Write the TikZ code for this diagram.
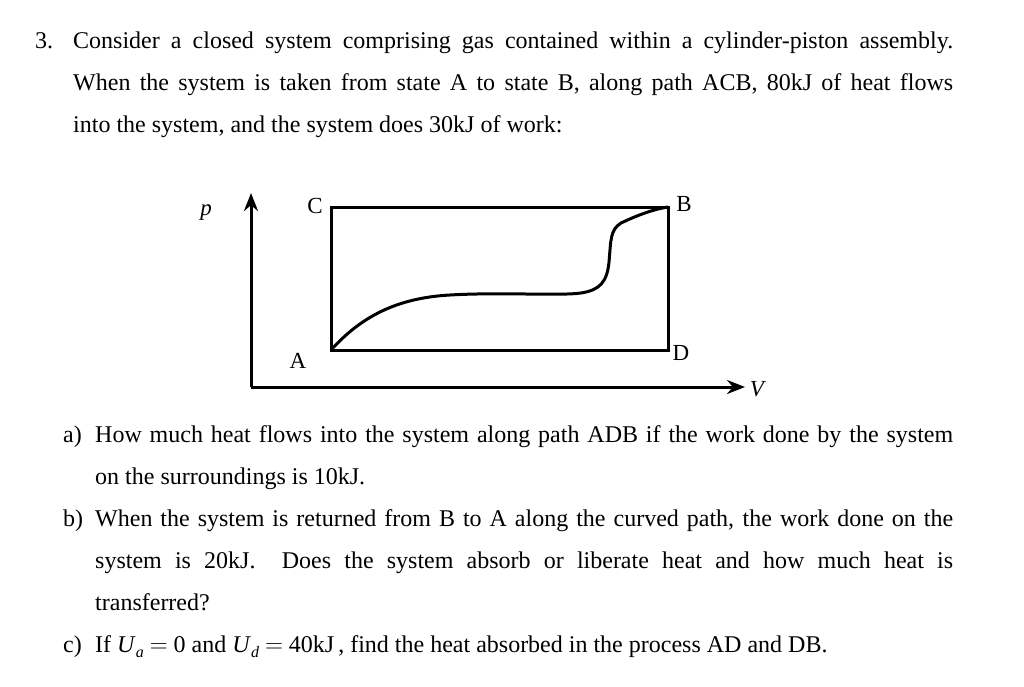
\documentclass[tikz,border=0pt]{standalone}
\usepackage{fontspec}
\setmainfont{Liberation Serif}
\usetikzlibrary{arrows.meta}
\begin{document}
\begin{tikzpicture}[x=1pt,y=-1pt,
  txt/.style={anchor=base west,inner sep=0pt,font=\fontsize{24}{28}\selectfont},
  lbl/.style={inner sep=0pt,font=\fontsize{23}{28}\selectfont},
  ln/.style={line width=3pt}]
\useasboundingbox (0,0) rectangle (1024,686);
\node[txt] (n3) at (35,48) {3.};
\node[txt] (l1) at (73,48) {\hbox to 880pt{Consider a closed system comprising gas contained within a cylinder-piston assembly.}};
\node[txt] (l2) at (73,90) {\hbox to 880pt{When the system is taken from state A to state B, along path ACB, 80kJ of heat flows}};
\node[txt] (l3) at (73,132) {into the system, and the system does 30kJ of work:};
% diagram
\coordinate (O) at (251,387);
\coordinate (Ytop) at (251,193);
\coordinate (Xend) at (745,387);
\draw[ln,-{Stealth[length=18pt,width=14pt]}] (O) -- (Ytop);
\draw[ln,-{Stealth[length=18pt,width=14pt]}] (O) -- (Xend);
\coordinate (A) at (331,350);
\coordinate (B) at (668,207);
\coordinate (C) at (331,207);
\coordinate (D) at (668,350);
\draw[ln] (A) -- (C) -- (B) -- (D) -- cycle;
\draw[ln] (A) .. controls (360,318) and (395,298) .. (450,295)
  .. controls (500,292) and (560,296) .. (581,293)
  .. controls (600,290) and (607,282) .. (609,262)
  .. controls (611,240) and (610,230) .. (621,223)
  .. controls (640,214) and (655,209) .. (B);
\node[lbl,font=\fontsize{23}{28}\selectfont\itshape] (p) at (206,213) {p};
\node[lbl] (lC) at (315,206) {C};
\node[lbl] (lB) at (684,204) {B};
\node[lbl] (lA) at (298,361) {A};
\node[lbl] (lD) at (681,353) {D};
\node[lbl,font=\fontsize{23}{28}\selectfont\itshape] (lV) at (757,389) {V};
% questions
\node[txt] (qa) at (63,442) {a)};
\node[txt] (a1) at (95,442) {\hbox to 858pt{How much heat flows into the system along path ADB if the work done by the system}};
\node[txt] (a2) at (95,484) {on the surroundings is 10kJ.};
\node[txt] (qb) at (63,526) {b)};
\node[txt] (b1) at (95,526) {\hbox to 858pt{When the system is returned from B to A along the curved path, the work done on the}};
\node[txt] (b2) at (95,568) {\hbox to 858pt{system is 20kJ.\ \ Does the system absorb or liberate heat and how much heat is}};
\node[txt] (b3) at (95,610) {transferred?};
\node[txt] (qc) at (63,652) {c)};
\node[txt] (c1) at (95,652) {If \textit{U}\raisebox{-5pt}{\fontsize{16}{18}\selectfont\textit{a}} $=$ 0 and \textit{U}\raisebox{-5pt}{\fontsize{16}{18}\selectfont\textit{d}} $=$ 40kJ\,, find the heat absorbed in the process AD and DB.};
\end{tikzpicture}
\end{document}
